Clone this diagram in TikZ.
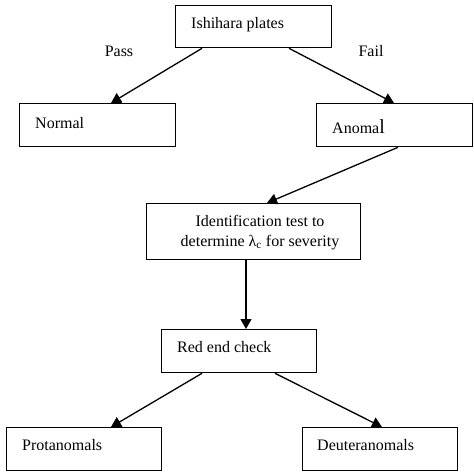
\documentclass[tikz,border=0pt]{standalone}
\usepackage{fontspec}
\setmainfont{Liberation Serif}
\usetikzlibrary{arrows.meta}
\begin{document}
\begin{tikzpicture}[x=1pt,y=-1pt,
  box/.style={draw, line width=1.3pt, minimum width=156pt, minimum height=43pt, inner sep=0pt, anchor=north west},
  txt/.style={anchor=base west, inner sep=0pt, font=\fontsize{16}{20}\selectfont},
  arr/.style={line width=1.3pt, -{Triangle[length=10pt,width=11pt]}}]
\useasboundingbox (0,0) rectangle (474,475);
% boxes
\node[box, minimum height=42pt] (ish) at (175,5) {};
\node[box] (norm) at (19,103) {};
\node[box] (anom) at (316,103) {};
\node[box, minimum width=214pt, minimum height=56pt] (ident) at (146,203) {};
\node[box, minimum width=155pt] (red) at (161,329) {};
\node[box, minimum width=155pt] (prot) at (6,427) {};
\node[box, minimum width=155pt] (deut) at (302,427) {};
% texts
\node[txt] (tish) at (191,28) {Ishihara plates};
\node[txt] (tnorm) at (35,128) {Normal};
\node[txt] (tanom) at (332,133) {Anoma{\fontsize{20}{20}\selectfont l}};
\node[txt, anchor=base] (tid1) at (260,226) {Identification test to};
\node[txt, anchor=base] (tid2) at (260,246) {determine λ\textsubscript{c} for severity};
\node[txt] (tred) at (177,352) {Red end check};
\node[txt] (tprot) at (22,450) {Protanomals};
\node[txt] (tdeut) at (317,450) {Deuteranomals};
\node[txt, anchor=base] (pass) at (119,56) {Pass};
\node[txt, anchor=base] (fail) at (371,56) {Fail};
% arrows
\draw[arr] ([xshift=27pt]ish.south west) -- ([xshift=92pt]norm.north west);
\draw[arr] ([xshift=114pt]ish.south west) -- ([xshift=78pt]anom.north west);
\draw[arr] ([xshift=82pt]anom.south west) -- ([xshift=121pt]ident.north west);
\draw[arr] ([xshift=100pt]ident.south west) -- ([xshift=85pt]red.north west);
\draw[arr] ([xshift=41pt]red.south west) -- ([xshift=105pt]prot.north west);
\draw[arr] ([xshift=114pt]red.south west) -- ([xshift=80pt]deut.north west);
\end{tikzpicture}
\end{document}
